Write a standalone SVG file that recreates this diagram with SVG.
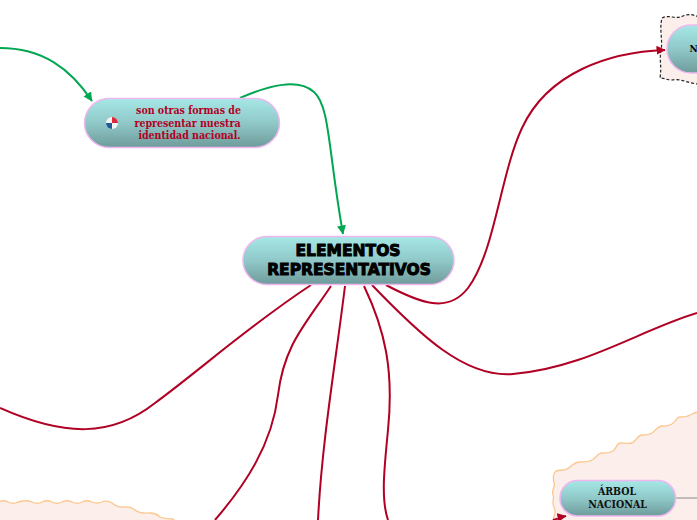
<svg xmlns="http://www.w3.org/2000/svg" width="697" height="520" viewBox="0 0 697 520">
<defs>
<linearGradient id="g" x1="0" y1="0" x2="0" y2="1"><stop offset="0" stop-color="#a5e8e6"/><stop offset="0.5" stop-color="#90c8c8"/><stop offset="1" stop-color="#6f9b9b"/></linearGradient>
<marker id="ar" markerUnits="userSpaceOnUse" markerWidth="10" markerHeight="10" refX="8.500" refY="4.500" orient="auto"><path d="M0 0L9 4.500L0 9z" fill="#b00024"/></marker>
<marker id="ag" markerUnits="userSpaceOnUse" markerWidth="10" markerHeight="10" refX="8.500" refY="4.500" orient="auto"><path d="M0 0L9 4.500L0 9z" fill="#00a651"/></marker>
</defs>
<style>
.n{fill:url(#g);stroke:#efb6f0;stroke-width:1.5}
.r{fill:none;stroke:#b00024;stroke-width:2}
.gc{fill:none;stroke:#00a651;stroke-width:2}
.cloud{fill:#fcefeb;stroke:#fcc78f;stroke-width:1.3}
.t{font-family:"DejaVu Serif Condensed","DejaVu Serif",serif;font-stretch:condensed;font-weight:700;text-anchor:middle}
.title{font-family:"DejaVu Sans",sans-serif;font-weight:700;font-size:15.500px;text-anchor:middle;fill:#000;stroke:#000;stroke-width:1}
</style>
<g id="bg-shapes">
<path class="cloud" d="M552 522C555 515 556 512 554 507C551 502 555 499 553 495C551 490 556 487 554 483C553 479 553 475 555 472C557 470 560 470 563 470C570 470 572 462 580 462C585 462 589 462 592 460C596 458 598 453 602 453C606 453 610 453 613 451C616 449 617 443 620 443C624 443 628 444 632 443C636 441 638 435 642 435C646 435 649 435 652 433C655 431 658 426 662 426C666 426 669 426 672 424C675 422 677 417 680 417C684 417 687 417 690 415C693 414 695 412 699 412L699 522Z"/>
<path class="cloud" d="M-2 502Q4 499.500 8 502Q13 504.500 18 502Q27 499.500 32 502Q37 504.500 42 502Q47 499.500 52 502Q57 504.500 62 502Q67 499.500 72 502Q77 504.500 82 502Q87 499.500 92 502Q97 504 102 502Q107 500 112 503Q118 508 125 507Q130 506 135 510Q140 514 150 513Q156 513 160 517Q165 519 173 519L176 522L-2 522Z"/>
<path d="M662 18C670 14 675 20 683 16C688 14 692 14 699 17L699 84C690 84 680 78 672 80C667 80 664 78 660 78C662 66 659 60 661 50C663 40 659 30 662 18Z" fill="#fcefeb" stroke="#222" stroke-width="1.200" stroke-dasharray="3 2"/>
</g>
<g id="connectors">
<path class="gc" d="M0 48C42 48 70 68 92 101" marker-end="url(#ag)"/>
<path class="gc" d="M240 98C270 85 298 78 314 92C330 106 328 150 343 234" marker-end="url(#ag)"/>
<path class="r" d="M386 285C420 303 448 314 468 288C495 252 500 175 522 128C548 72 610 52 665 50" marker-end="url(#ar)"/>
<path class="r" d="M372 285C420 335 465 378 513 374C585 368 640 330 697 313"/>
<path class="r" d="M364 286C385 330 394 370 388 430C384 470 381 500 388 520"/>
<path class="r" d="M345 286C336 360 322 440 318 520"/>
<path class="r" d="M331 286C305 325 284 345 278 395C272 445 245 485 215 520"/>
<path class="r" d="M311 285C250 325 200 370 155 403C112 437 65 437 0 408"/>
<path class="r" d="M553 520C557 519 561 517 566 516" marker-end="url(#ar)"/>
<path d="M676 498H697" fill="none" stroke="#888" stroke-width="1"/>
</g>
<g id="node-otras">
<rect class="n" x="84.500" y="98.500" width="195" height="49" rx="24.500"/>
<circle cx="112" cy="123" r="6" fill="#f4f4f4"/>
<path d="M112 117A6 6 0 0 1 118 123H112Z" fill="#e0283c"/>
<path d="M112 123V129A6 6 0 0 1 106 123Z" fill="#1f5a96"/>
<text class="t" font-size="10.500" fill="#b00024"><tspan x="188.500" y="114">son otras formas de</tspan><tspan x="187.500" y="127">representar nuestra</tspan><tspan x="189.500" y="139">identidad nacional.</tspan></text>
</g>
<g id="node-central">
<rect class="n" x="243" y="236.500" width="211" height="48" rx="24"/>
<text class="title"><tspan x="348" y="256">ELEMENTOS</tspan><tspan x="349" y="275">REPRESENTATIVOS</tspan></text>
</g>
<g id="node-n">
<rect class="n" x="667" y="25" width="80" height="48" rx="24"/>
<text class="t" font-size="10" fill="#000" x="689.500" y="52" style="text-anchor:start">N</text>
</g>
<g id="node-arbol">
<rect class="n" x="560" y="480.500" width="115.500" height="35.500" rx="17.500"/>
<text class="t" font-size="10.500" fill="#111"><tspan x="617" y="495">ÁRBOL</tspan><tspan x="617.500" y="508">NACIONAL</tspan></text>
</g>
</svg>
